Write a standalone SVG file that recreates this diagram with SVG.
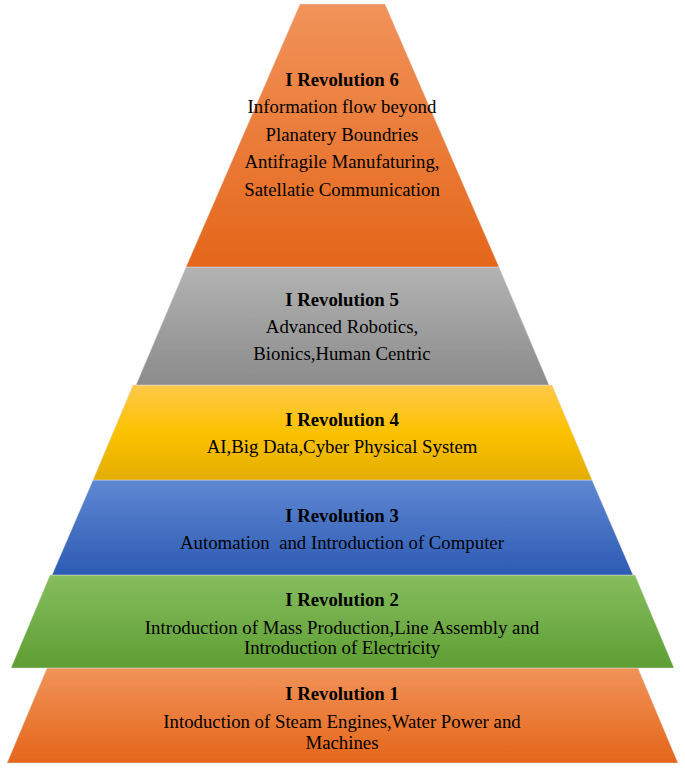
<svg xmlns="http://www.w3.org/2000/svg" width="685" height="776" viewBox="0 0 685 776">
<defs>
<linearGradient id="gO" x1="0" y1="0" x2="0" y2="1"><stop offset="0" stop-color="#f1935a"/><stop offset="1" stop-color="#e4661a"/></linearGradient>
<linearGradient id="gG" x1="0" y1="0" x2="0" y2="1"><stop offset="0" stop-color="#b3b3b3"/><stop offset="1" stop-color="#8b8b8b"/></linearGradient>
<linearGradient id="gY" x1="0" y1="0" x2="0" y2="1"><stop offset="0" stop-color="#ffc94a"/><stop offset="0.5" stop-color="#fcc200"/><stop offset="1" stop-color="#e2ad00"/></linearGradient>
<linearGradient id="gB" x1="0" y1="0" x2="0" y2="1"><stop offset="0" stop-color="#5f88d2"/><stop offset="1" stop-color="#2d5bb4"/></linearGradient>
<linearGradient id="gN" x1="0" y1="0" x2="0" y2="1"><stop offset="0" stop-color="#86bd5e"/><stop offset="1" stop-color="#5e9e33"/></linearGradient>
</defs>
<style>
text{font-family:"Liberation Serif","Times New Roman",serif;font-size:18.8px;fill:#000;text-anchor:middle}
.t{font-weight:bold}
.s{stroke:#ddd;stroke-width:0.5}
</style>
<g id="rev1"><polygon class="s" points="47,668 638,668 678,763 7,763" fill="url(#gO)"/>
<text class="t" x="342" y="700">I Revolution 1</text>
<text x="342" y="728">Intoduction of Steam Engines,Water Power and</text>
<text x="342" y="749">Machines</text></g>
<g id="rev2"><polygon class="s" points="50,575 635,575 674,668 11,668" fill="url(#gN)"/>
<text class="t" x="342" y="606">I Revolution 2</text>
<text x="342" y="634">Introduction of Mass Production,Line Assembly and</text>
<text x="342" y="654">Introduction of Electricity</text></g>
<g id="rev3"><polygon class="s" points="93,480 592,480 633,575 52,575" fill="url(#gB)"/>
<text class="t" x="342" y="522">I Revolution 3</text>
<text x="342" y="549" xml:space="preserve">Automation  and Introduction of Computer</text></g>
<g id="rev4"><polygon class="s" points="133,385 552,385 592,480 93,480" fill="url(#gY)"/>
<text class="t" x="342" y="426">I Revolution 4</text>
<text x="342" y="453">AI,Big Data,Cyber Physical System</text></g>
<g id="rev5"><polygon class="s" points="186,267 499,267 549,385 136,385" fill="url(#gG)"/>
<text class="t" x="342" y="306">I Revolution 5</text>
<text x="342" y="333">Advanced Robotics,</text>
<text x="342" y="360">Bionics,Human Centric</text></g>
<g id="rev6"><polygon class="s" points="300,4 385,4 499,267 186,267" fill="url(#gO)"/>
<text class="t" x="342" y="86">I Revolution 6</text>
<text x="342" y="113">Information flow beyond</text>
<text x="342" y="141">Planatery Boundries</text>
<text x="342" y="168">Antifragile Manufaturing,</text>
<text x="342" y="196">Satellatie Communication</text></g>
<g id="connectors"/>
</svg>
